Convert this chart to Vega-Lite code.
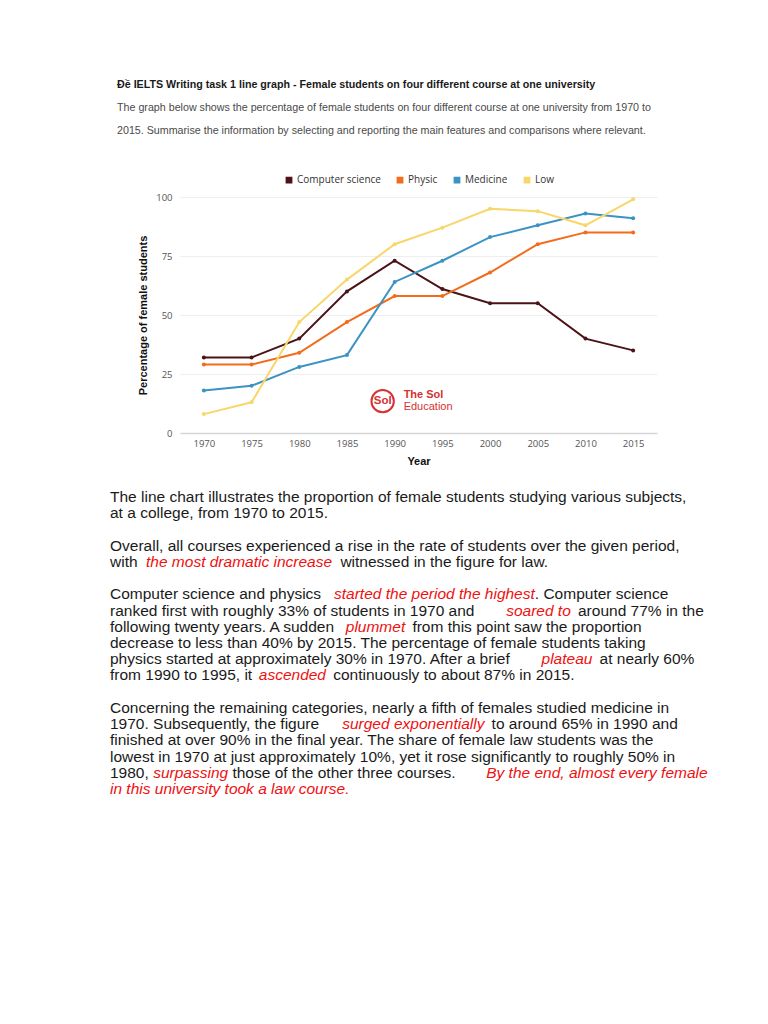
{
  "$schema": "https://vega.github.io/schema/vega-lite/v6.json",
  "background": "white",
  "padding": {"left": 110, "top": 79, "right": 20, "bottom": 20},
  "spacing": 64,
  "bounds": "flush",
  "resolve": {"scale": {"color": "independent"}, "legend": {"color": "independent"}},
  "config": {
    "view": {"stroke": null},
    "font": "Liberation Sans",
    "legend": {"layout": {"top": {"anchor": "middle"}}}
  },
  "datasets": {
    "header": [
      {"row": 0, "kind": "title", "text": "Đề IELTS Writing task 1 line graph - Female students on four different course at one university"},
      {"row": 1, "kind": "body", "text": "The graph below shows the percentage of female students on four different course at one university from 1970 to"},
      {"row": 2, "kind": "body", "text": "2015. Summarise the information by selecting and reporting the main features and comparisons where relevant."}
    ],
    "series": [
      {"year": 1970, "course": "Computer science", "pct": 32},
      {"year": 1975, "course": "Computer science", "pct": 32},
      {"year": 1980, "course": "Computer science", "pct": 40},
      {"year": 1985, "course": "Computer science", "pct": 60},
      {"year": 1990, "course": "Computer science", "pct": 73},
      {"year": 1995, "course": "Computer science", "pct": 61},
      {"year": 2000, "course": "Computer science", "pct": 55},
      {"year": 2005, "course": "Computer science", "pct": 55},
      {"year": 2010, "course": "Computer science", "pct": 40},
      {"year": 2015, "course": "Computer science", "pct": 35},
      {"year": 1970, "course": "Physic", "pct": 29},
      {"year": 1975, "course": "Physic", "pct": 29},
      {"year": 1980, "course": "Physic", "pct": 34},
      {"year": 1985, "course": "Physic", "pct": 47},
      {"year": 1990, "course": "Physic", "pct": 58},
      {"year": 1995, "course": "Physic", "pct": 58},
      {"year": 2000, "course": "Physic", "pct": 68},
      {"year": 2005, "course": "Physic", "pct": 80},
      {"year": 2010, "course": "Physic", "pct": 85},
      {"year": 2015, "course": "Physic", "pct": 85},
      {"year": 1970, "course": "Medicine", "pct": 18},
      {"year": 1975, "course": "Medicine", "pct": 20},
      {"year": 1980, "course": "Medicine", "pct": 28},
      {"year": 1985, "course": "Medicine", "pct": 33},
      {"year": 1990, "course": "Medicine", "pct": 64},
      {"year": 1995, "course": "Medicine", "pct": 73},
      {"year": 2000, "course": "Medicine", "pct": 83},
      {"year": 2005, "course": "Medicine", "pct": 88},
      {"year": 2010, "course": "Medicine", "pct": 93},
      {"year": 2015, "course": "Medicine", "pct": 91},
      {"year": 1970, "course": "Low", "pct": 8},
      {"year": 1975, "course": "Low", "pct": 13},
      {"year": 1980, "course": "Low", "pct": 47},
      {"year": 1985, "course": "Low", "pct": 65},
      {"year": 1990, "course": "Low", "pct": 80},
      {"year": 1995, "course": "Low", "pct": 87},
      {"year": 2000, "course": "Low", "pct": 95},
      {"year": 2005, "course": "Low", "pct": 94},
      {"year": 2010, "course": "Low", "pct": 88},
      {"year": 2015, "course": "Low", "pct": 99}
    ],
    "logo": [{"badge": "Sol", "name": "The Sol", "sub": "Education"}],
    "body": [
      {"row": 0, "char": 0, "stop": 88, "red": false, "text": "The line chart illustrates the proportion of female students studying various subjects,"},
      {"row": 1, "char": 0, "stop": 33, "red": false, "text": "at a college,  from 1970 to 2015."},
      {"row": 3, "char": 0, "stop": 87, "red": false, "text": "Overall, all courses experienced a rise in the rate of students over the given  period,"},
      {"row": 4, "char": 0, "stop": 4, "red": false, "text": "with"},
      {"row": 4, "char": 5, "stop": 31, "red": true, "text": "the most dramatic increase"},
      {"row": 4, "char": 32, "stop": 64, "red": false, "text": "witnessed in the figure for law."},
      {"row": 6, "char": 0, "stop": 28, "red": false, "text": "Computer science and physics"},
      {"row": 6, "char": 29, "stop": 59, "red": true, "text": "started the period the highest"},
      {"row": 6, "char": 59, "stop": 77, "red": false, "text": ". Computer science"},
      {"row": 7, "char": 0, "stop": 54, "red": false, "text": "ranked first with  roughly 33% of students in 1970 and"},
      {"row": 7, "char": 55, "stop": 64, "red": true, "text": "soared to"},
      {"row": 7, "char": 65, "stop": 82, "red": false, "text": "around 77% in the"},
      {"row": 8, "char": 0, "stop": 32, "red": false, "text": "following twenty years. A sudden"},
      {"row": 8, "char": 34, "stop": 41, "red": true, "text": "plummet"},
      {"row": 8, "char": 42, "stop": 76, "red": false, "text": "from this point saw the proportion"},
      {"row": 9, "char": 0, "stop": 75, "red": false, "text": "decrease to less than 40% by 2015. The percentage of female students taking"},
      {"row": 10, "char": 0, "stop": 59, "red": false, "text": "physics started at approximately 30% in 1970. After a brief"},
      {"row": 10, "char": 60, "stop": 67, "red": true, "text": "plateau"},
      {"row": 10, "char": 68, "stop": 82, "red": false, "text": "at nearly  60%"},
      {"row": 11, "char": 0, "stop": 21, "red": false, "text": "from 1990 to 1995, it"},
      {"row": 11, "char": 22, "stop": 30, "red": true, "text": "ascended"},
      {"row": 11, "char": 31, "stop": 65, "red": false, "text": "continuously to about 87% in 2015."},
      {"row": 13, "char": 0, "stop": 82, "red": false, "text": "Concerning the remaining categories, nearly a fifth of females studied medicine in"},
      {"row": 14, "char": 0, "stop": 31, "red": false, "text": "1970.  Subsequently, the figure"},
      {"row": 14, "char": 32, "stop": 52, "red": true, "text": "surged exponentially"},
      {"row": 14, "char": 53, "stop": 78, "red": false, "text": "to around 65% in 1990 and"},
      {"row": 15, "char": 0, "stop": 81, "red": false, "text": "finished at over 90% in  the final year. The share of female law students was the"},
      {"row": 16, "char": 0, "stop": 86, "red": false, "text": "lowest in 1970 at just approximately 10%,  yet it rose significantly to roughly 50% in"},
      {"row": 17, "char": 0, "stop": 5, "red": false, "text": "1980,"},
      {"row": 17, "char": 6, "stop": 16, "red": true, "text": "surpassing"},
      {"row": 17, "char": 17, "stop": 50, "red": false, "text": "those of the other three courses."},
      {"row": 17, "char": 51, "stop": 83, "red": true, "text": "By  the end, almost every female"},
      {"row": 18, "char": 0, "stop": 37, "red": true, "text": "in this university took a law course."}
    ]
  },
  "vconcat": [
    {
      "width": 477,
      "height": 48,
      "data": {"name": "header"},
      "encoding": {
        "x": {"datum": 0, "type": "quantitative", "scale": {"domain": [63, 540], "nice": false, "zero": false}, "axis": null},
        "y": {"field": "row", "type": "quantitative", "scale": {"domain": [0, 2.1], "reverse": true, "nice": false, "zero": false}, "axis": null},
        "text": {"field": "text"}
      },
      "layer": [
        {
          "transform": [{"filter": "datum.kind === 'title'"}],
          "mark": {"type": "text", "align": "left", "baseline": "middle", "font": "Liberation Sans", "fontSize": 10.7, "fontWeight": "bold", "color": "#1a1a1a"}
        },
        {
          "transform": [{"filter": "datum.kind === 'body'"}],
          "mark": {"type": "text", "align": "left", "baseline": "middle", "font": "Liberation Sans", "fontSize": 10.7, "color": "#4a4a4a"}
        }
      ]
    },
    {
      "width": 477,
      "height": 236,
      "layer": [
        {
          "data": {"name": "series"},
          "mark": {"type": "line", "strokeWidth": 2},
          "encoding": {
            "x": {"field": "year", "type": "ordinal", "scale": {"type": "point", "padding": 0.5}, "title": "Year",
              "axis": {"labelAngle": 0, "labelFont": "Open Sans", "labelFontSize": 9.5, "labelColor": "#555555", "labelPadding": 5, "ticks": false, "domain": false, "grid": false, "titleFont": "Liberation Sans", "titleFontWeight": "bold", "titleFontSize": 11, "titleColor": "#111111", "titlePadding": 8}},
            "y": {"field": "pct", "type": "quantitative", "scale": {"domain": [0, 100]}, "title": "Percentage of female students",
              "axis": {"values": [0, 25, 50, 75, 100], "labelFont": "Open Sans", "labelFontSize": 9.5, "labelColor": "#555555", "labelPadding": 8, "ticks": false, "domain": false,
                "gridColor": {"condition": {"test": "datum.value === 0", "value": "#d6d6d6"}, "value": "#eeeeee"},
                "gridWidth": {"condition": {"test": "datum.value === 0", "value": 1.5}, "value": 1},
                "titleFont": "Liberation Sans", "titleFontWeight": "bold", "titleFontSize": 11, "titleColor": "#111111", "titlePadding": 7}},
            "color": {"field": "course", "type": "nominal",
              "scale": {"domain": ["Computer science", "Physic", "Medicine", "Low"], "range": ["#4b1317", "#f26c1c", "#3b93c3", "#f8d66a"]},
              "legend": {"orient": "top", "direction": "horizontal", "title": null, "symbolType": "square", "symbolSize": 28, "labelFont": "Open Sans", "labelFontSize": 10, "labelColor": "#333333", "labelOffset": 3, "columnPadding": 13, "offset": 9,
                "encode": {"symbols": {"update": {"fill": {"scale": "color", "field": "value"}, "stroke": {"value": "transparent"}}}}}
            }
          }
        },
        {
          "data": {"name": "series"},
          "mark": {"type": "point", "filled": true, "size": 16, "opacity": 1},
          "encoding": {
            "x": {"field": "year", "type": "ordinal"},
            "y": {"field": "pct", "type": "quantitative"},
            "color": {"field": "course", "type": "nominal"}
          }
        },
        {
          "data": {"name": "logo"},
          "mark": {"type": "point", "shape": "circle", "filled": false, "stroke": "#d63232", "strokeWidth": 2, "size": 500, "xOffset": -12, "opacity": 1},
          "encoding": {"x": {"datum": 1990, "type": "ordinal"}, "y": {"datum": 13.5, "type": "quantitative"}}
        },
        {
          "data": {"name": "logo"},
          "mark": {"type": "text", "align": "center", "baseline": "middle", "font": "Liberation Sans", "fontSize": 11.5, "fontWeight": "bold", "color": "#d63232", "dx": -12},
          "encoding": {"x": {"datum": 1990, "type": "ordinal"}, "y": {"datum": 13.5, "type": "quantitative"}, "text": {"field": "badge"}}
        },
        {
          "data": {"name": "logo"},
          "mark": {"type": "text", "align": "left", "baseline": "middle", "font": "Liberation Sans", "fontSize": 11, "fontWeight": "bold", "color": "#d63232", "dx": 9},
          "encoding": {"x": {"datum": 1990, "type": "ordinal"}, "y": {"datum": 16.2, "type": "quantitative"}, "text": {"field": "name"}}
        },
        {
          "data": {"name": "logo"},
          "mark": {"type": "text", "align": "left", "baseline": "middle", "font": "Liberation Sans", "fontSize": 11, "color": "#d63232", "dx": 9},
          "encoding": {"x": {"datum": 1990, "type": "ordinal"}, "y": {"datum": 11, "type": "quantitative"}, "text": {"field": "sub"}}
        }
      ]
    },
    {
      "width": 477,
      "height": 292,
      "data": {"name": "body"},
      "encoding": {
        "y": {"field": "row", "type": "quantitative", "scale": {"domain": [0, 18], "reverse": true, "nice": false, "zero": false}, "axis": null},
        "text": {"field": "text"}
      },
      "layer": [
        {
          "transform": [{"filter": "!datum.red"}],
          "mark": {"type": "text", "align": "left", "baseline": "middle", "font": "Liberation Sans", "fontSize": 15.5, "color": "#1a1a1a"},
          "encoding": {"x": {"field": "char", "type": "quantitative", "scale": {"domain": [9.722, 75.972], "nice": false, "zero": false}, "axis": null}}
        },
        {
          "transform": [{"filter": "datum.red && datum.char < 10"}],
          "mark": {"type": "text", "align": "left", "baseline": "middle", "font": "Liberation Sans", "fontSize": 15.5, "fontStyle": "italic", "color": "#f01010"},
          "encoding": {"x": {"field": "char", "type": "quantitative"}}
        },
        {
          "transform": [{"filter": "datum.red && datum.char >= 10"}],
          "mark": {"type": "text", "align": "right", "baseline": "middle", "font": "Liberation Sans", "fontSize": 15.5, "fontStyle": "italic", "color": "#f01010"},
          "encoding": {"x": {"field": "stop", "type": "quantitative"}}
        }
      ]
    }
  ]
}
